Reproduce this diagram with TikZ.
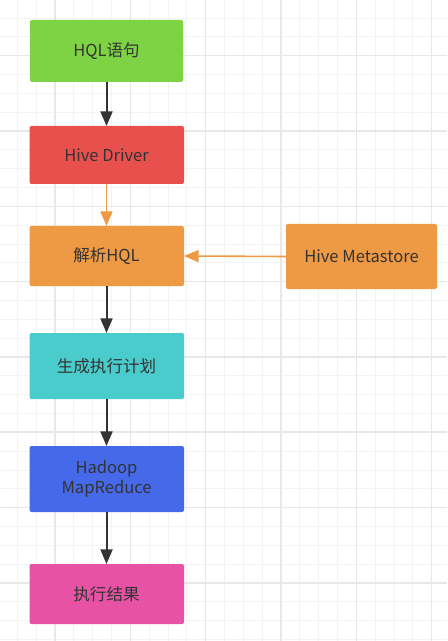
\documentclass[tikz,border=0pt]{standalone}
\usepackage{fontspec}
\setmainfont{Noto Sans CJK SC}
\usetikzlibrary{arrows.meta}
\definecolor{gminor}{HTML}{F3F3F3}
\definecolor{gmajor}{HTML}{E8E8E8}
\definecolor{cgreen}{HTML}{7ED344}
\definecolor{cred}{HTML}{E8504E}
\definecolor{corange}{HTML}{EE9944}
\definecolor{cteal}{HTML}{4ACCCD}
\definecolor{cblue}{HTML}{4569E9}
\definecolor{cpink}{HTML}{E752A4}
\definecolor{ctext}{HTML}{333333}
\definecolor{carrow}{HTML}{333333}
\begin{document}
\begin{tikzpicture}[x=0.75pt,y=-0.75pt,
  box/.style={draw=none,rounded corners=1.5pt,text=ctext,font=\fontsize{12.4}{15}\selectfont,align=center,inner sep=0pt},
  darrow/.style={draw=carrow,line width=1.5pt,-{Triangle[length=11pt,width=9pt]}},
  oarrow/.style={draw=corange,line width=1.2pt,-{Triangle[length=11pt,width=9pt]}}]
\useasboundingbox (0,0) rectangle (447,641);
\fill[white] (0,0) rectangle (447,641);
% minor grid
\foreach \i in {0,...,24} {
  \draw[gminor,line width=0.75pt] ({17.5+18.83*\i},0) -- ({17.5+18.83*\i},641);
}
\foreach \j in {0,...,34} {
  \draw[gminor,line width=0.75pt] (0,{18.1+18.83*\j}) -- (447,{18.1+18.83*\j});
}
% major grid
\foreach \i in {0,...,5} {
  \draw[gmajor,line width=1.1pt] ({55.1+75.3*\i},0) -- ({55.1+75.3*\i},641);
}
\foreach \j in {0,...,7} {
  \draw[gmajor,line width=1.1pt] (0,{55.7+75.3*\j}) -- (447,{55.7+75.3*\j});
}
% boxes
\fill[cgreen,rounded corners=1.5pt] (30,20) rectangle (183,82);
\node[box] (hql) at (106.5,51) {HQL语句};
\coordinate (hqlS) at (106.5,82);
\fill[cred,rounded corners=1.5pt] (29.5,126) rectangle (184,184);
\node[box] (drv) at (106.5,155) {Hive Driver};
\coordinate (drvN) at (106.5,126);
\coordinate (drvS) at (106.5,184);
\fill[corange,rounded corners=1.5pt] (29.5,226) rectangle (184,286);
\node[box] (parse) at (106.5,256) {解析HQL};
\coordinate (parseN) at (106.5,226);
\coordinate (parseS) at (106.5,286);
\coordinate (parseE) at (184,256);
\fill[corange,rounded corners=1.5pt] (286,224) rectangle (437,289);
\node[box] (meta) at (361.5,256.5) {Hive Metastore};
\coordinate (metaW) at (286,256.5);
\fill[cteal,rounded corners=1.5pt] (29.5,333) rectangle (184,399);
\node[box] (plan) at (106.5,366) {生成执行计划};
\coordinate (planN) at (106.5,333);
\coordinate (planS) at (106.5,399);
\fill[cblue,rounded corners=1.5pt] (29.5,446) rectangle (184,512);
\node[box] (mr) at (106.5,479) {Hadoop\\MapReduce};
\coordinate (mrN) at (106.5,446);
\coordinate (mrS) at (106.5,512);
\fill[cpink,rounded corners=1.5pt] (29.5,564) rectangle (184,624);
\node[box] (res) at (106.5,594) {执行结果};
\coordinate (resN) at (106.5,564);
% arrows
\draw[darrow] (hqlS) -- (drvN);
\draw[oarrow] (drvS) -- (parseN);
\draw[oarrow] (metaW) -- (parseE);
\draw[darrow] (parseS) -- (planN);
\draw[darrow] (planS) -- (mrN);
\draw[darrow] (mrS) -- (resN);
\end{tikzpicture}
\end{document}
